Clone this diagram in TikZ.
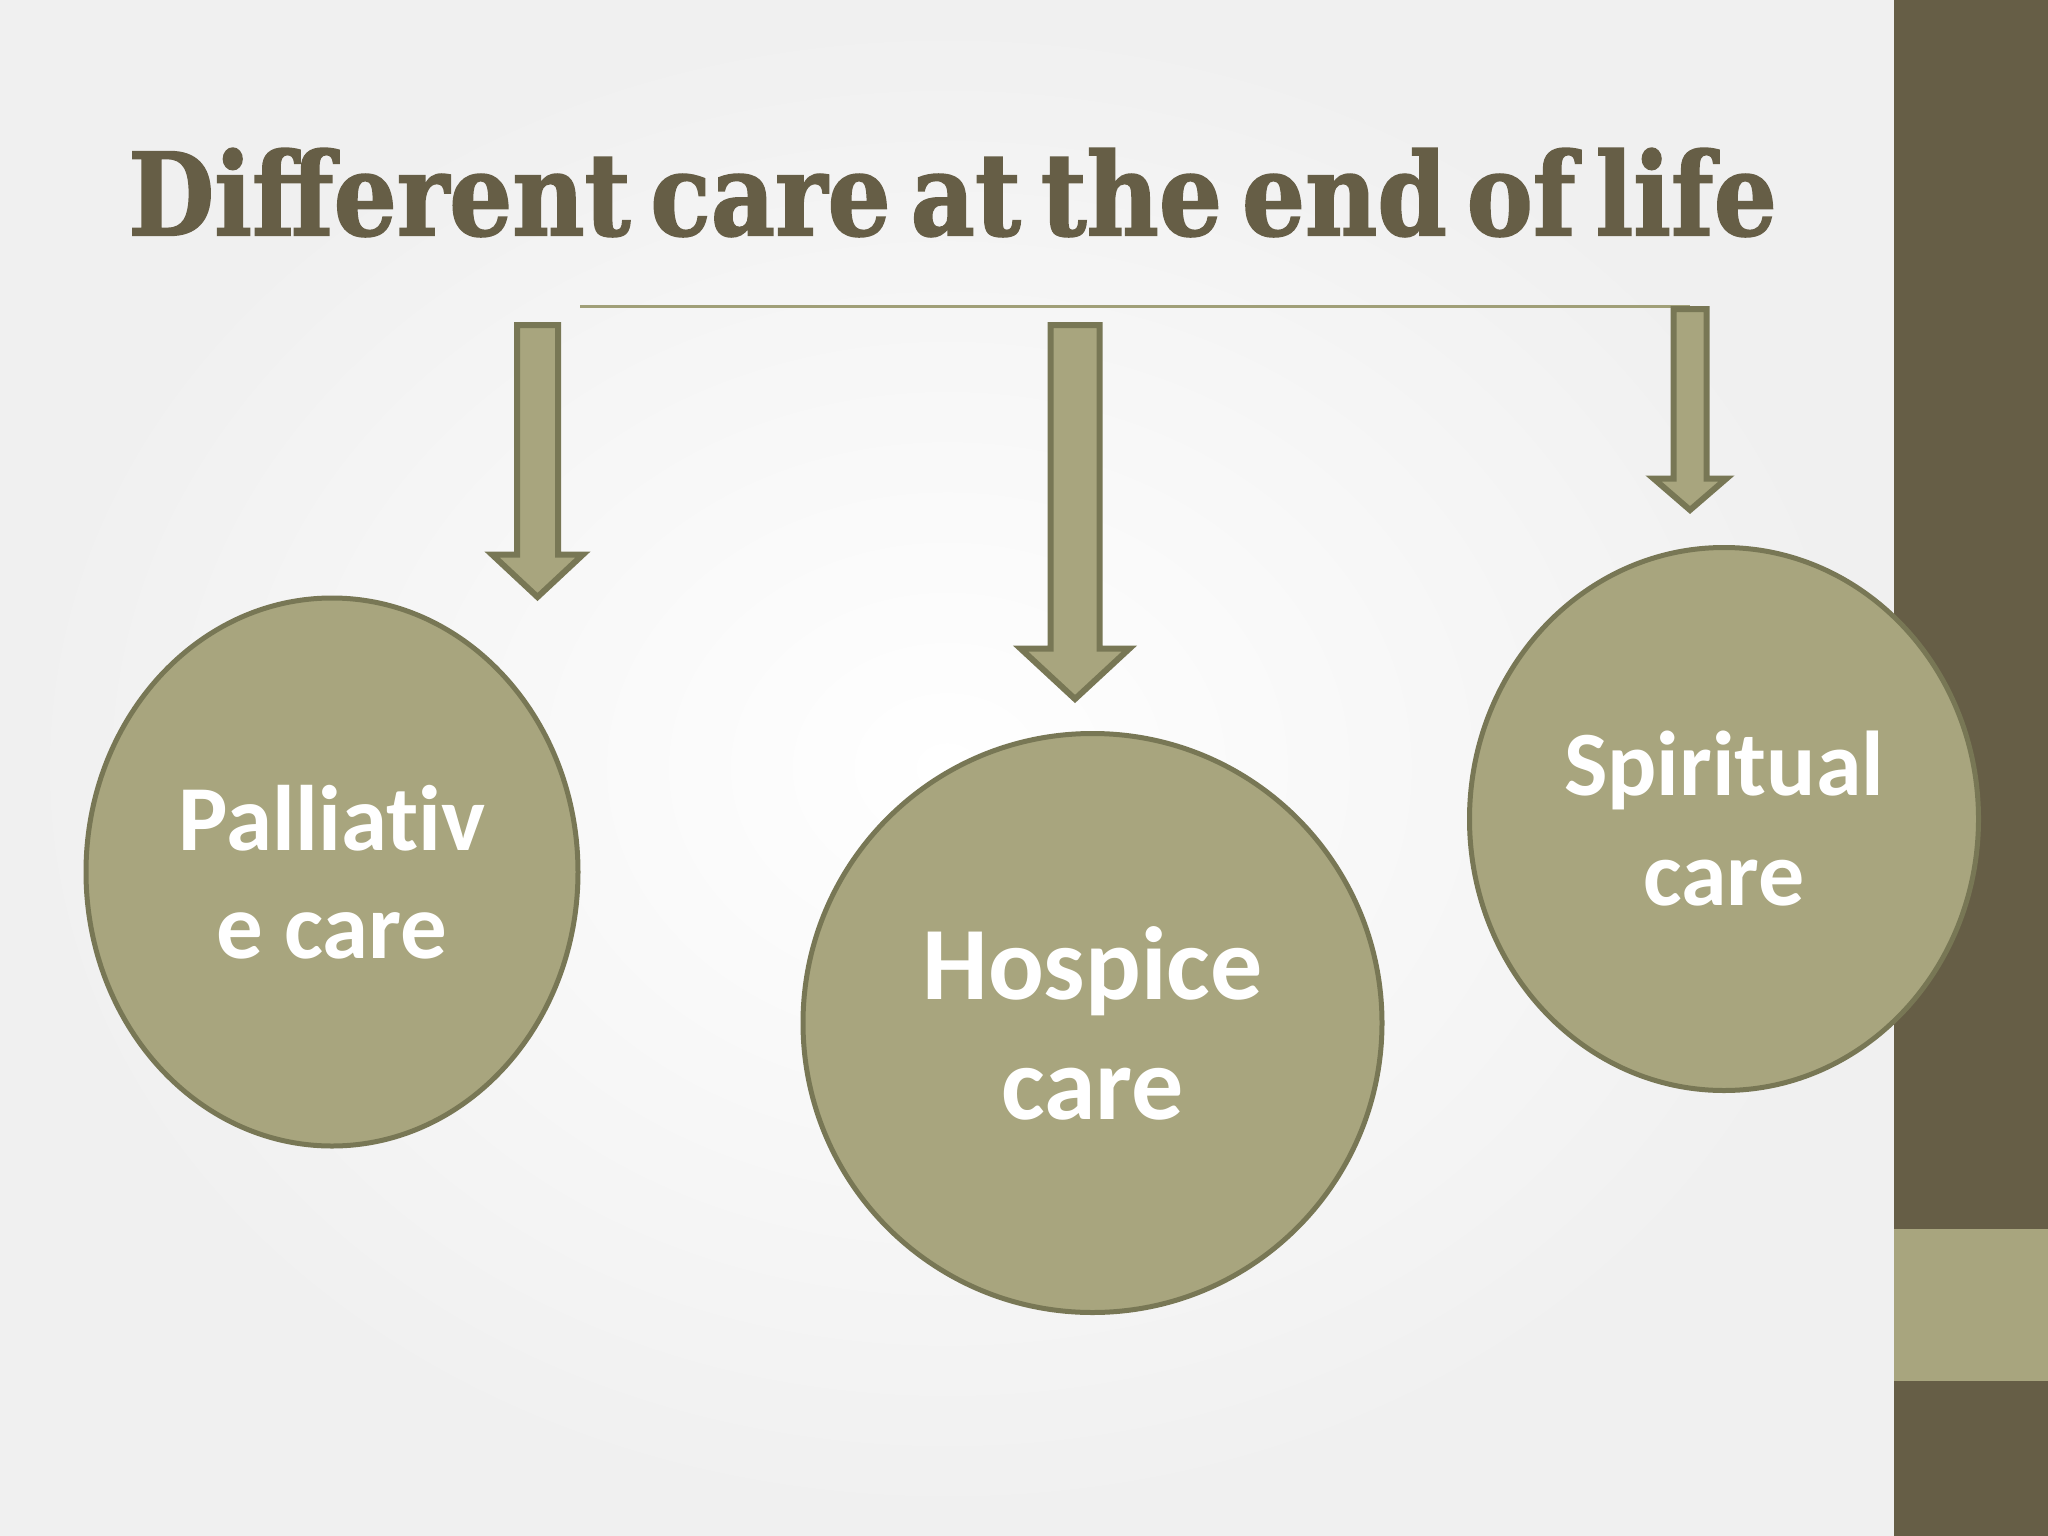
\documentclass[tikz,border=0pt]{standalone}
\usepackage{fontspec}
\setmainfont{Carlito}[Ligatures={NoCommon}]
\newfontfamily\titlefont{DejaVu Serif}[BoldFeatures={FakeBold=1.6}]
\usetikzlibrary{shapes.geometric}
\definecolor{darkolive}{RGB}{102,94,70}
\definecolor{lightolive}{RGB}{168,165,126}
\definecolor{edgeolive}{RGB}{120,119,85}
\definecolor{lineolive}{RGB}{160,159,120}
\tikzset{
  bubble/.style={ellipse, draw=edgeolive, line width=5pt, fill=lightolive, inner sep=0pt,
    text=white, align=center, font=\bfseries},
  blockarrow/.style={draw=edgeolive, line width=6pt, fill=lightolive, line join=miter},
  topline/.style={draw=lineolive, line width=3pt}
}
\newcommand\downblock[6]{%
  \draw[blockarrow] (#1-#3,#2) -- (#1+#3,#2) -- (#1+#3,#5) -- (#1+#4,#5) -- (#1,#6)
    -- (#1-#4,#5) -- (#1-#3,#5) -- cycle;}
\begin{document}
\begin{tikzpicture}[x=1pt,y=-1pt]
\useasboundingbox (0,0) rectangle (2048,1536);
% background
\shade[inner color=white, outer color=black!6] (0,0) rectangle (1894,1536);
\fill[darkolive] (1894,0) rectangle (2048,1536);
\fill[lightolive] (1894,1229) rectangle (2048,1381);
% title
\node[anchor=north west, inner sep=0pt, text=darkolive] (title) at (128,148)
  {\resizebox{1648pt}{87pt}{\titlefont\bfseries\spaceskip=0.2em Different care at the end of life}};
% connecting line
\coordinate (lineL) at (580,306.5);
\coordinate (lineR) at (1690,306.5);
\draw[topline] (lineL) -- (lineR);
% block arrows
\downblock{537.5}{325}{20.5}{45.5}{554.5}{597}
\downblock{1075}{325}{24.5}{54.5}{648.5}{699}
\downblock{1690}{309}{16.5}{36.5}{478.5}{510}
% circles
\node[bubble, minimum width=492pt, minimum height=548pt,
  font=\bfseries\fontsize{93}{108}\selectfont] (palliative) at (332,872) {Palliativ\\e care};
\node[bubble, minimum width=579pt, minimum height=579pt,
  font=\bfseries\fontsize{104}{120}\selectfont] (hospice) at (1092.5,1023) {Hospice\\care};
\node[bubble, minimum width=509pt, minimum height=543pt,
  font=\bfseries\fontsize{92}{110}\selectfont] (spiritual) at (1724,819) {Spiritual\\care};
\end{tikzpicture}
\end{document}
